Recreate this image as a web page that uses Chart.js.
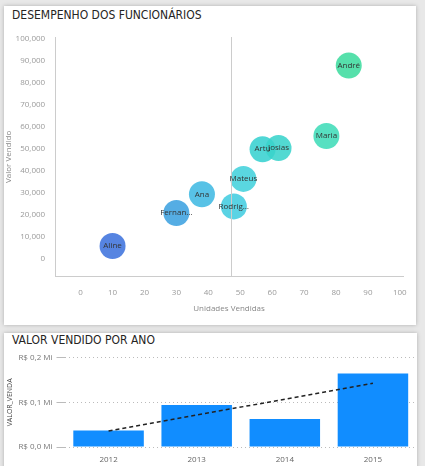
<!DOCTYPE html><html><head><meta charset="utf-8">
<script src="https://cdn.jsdelivr.net/npm/chart.js@4"></script>
<style>
body{margin:0;background:#e8e8e8;width:425px;height:466px;overflow:hidden;font-family:"Open Sans",sans-serif}
.card{position:absolute;background:#fff;box-shadow:0 0 4px rgba(0,0,0,.25)}
.t{position:absolute;left:8px;top:2px;font-family:"DejaVu Sans Condensed","Open Sans",sans-serif;font-size:12px;color:#252423}
canvas{position:absolute}
</style></head><body>
<div class="card" style="left:4px;top:6px;width:412px;height:319px">
<div class="t">DESEMPENHO DOS FUNCIONÁRIOS</div>
<canvas id="c1" style="left:0;top:18px" width="412" height="300"></canvas></div>
<div class="card" style="left:4px;top:333px;width:413px;height:140px">
<div class="t" style="top:0">VALOR VENDIDO POR ANO</div>
<canvas id="c2" style="left:0;top:16px" width="413" height="124"></canvas></div>
<script>
const names=["Aline","Fernando","Ana","Rodrigo","Mateus","Artur","Josias","Maria","André"];
const unidades=[10,30,38,48,51,57,62,77,84];
const valores=[6000,21000,29500,24000,36500,50000,50500,56000,88000];
const cores=["#3f73dd","#3da2e0","#41b9e3","#43cde0","#43d1dc","#38d2d0","#3ad4cc","#40dcb8","#3fdc9f"];
const mediaUnidades=47;
const anos=["2012","2013","2014","2015"];
const vendas=[0.037,0.094,0.063,0.165];
const tendencia=[0.036,0.072,0.107,0.143];
const grid='#9a9a9a';
const tf={family:"Open Sans",size:8};
new Chart(document.getElementById('c1'),{type:'bubble',
data:{datasets:[{data:unidades.map((x,i)=>({x:x,y:valores[i],r:13})),backgroundColor:cores.map(c=>c+'e0'),borderWidth:0}]},
options:{responsive:false,animation:false,layout:{padding:{top:0,right:8,left:0,bottom:6}},
plugins:{legend:{display:false},tooltip:{enabled:false}},
scales:{x:{type:'linear',min:-8,max:101,afterBuildTicks:a=>{a.ticks=[0,10,20,30,40,50,60,70,80,90,100].map(v=>({value:v}))},
grid:{display:false},border:{color:'#ccc'},ticks:{color:grid,font:tf},title:{display:true,text:'Unidades Vendidas',color:'#888',font:tf}},
y:{min:-8000,max:101000,afterBuildTicks:a=>{a.ticks=[0,10000,20000,30000,40000,50000,60000,70000,80000,90000,100000].map(v=>({value:v}))},
grid:{display:false},border:{color:'#ccc'},ticks:{color:grid,font:tf,padding:2,callback:v=>v.toLocaleString('en-US')},title:{display:true,text:'Valor Vendido',color:'#888',font:tf,padding:0}}}},
plugins:[{id:'lab',afterDatasetsDraw(ch){const c=ch.ctx,xs=ch.scales.x,ar=ch.chartArea;
c.save();c.strokeStyle='#ccc';c.lineWidth=1;const px=Math.round(xs.getPixelForValue(mediaUnidades))+.5;c.beginPath();c.moveTo(px,ar.top);c.lineTo(px,ar.bottom);c.stroke();
c.fillStyle='#333';c.font='8px "Open Sans"';c.textAlign='center';c.textBaseline='middle';
ch.getDatasetMeta(0).data.forEach((e,i)=>{let n=names[i];if(n.length>6)n=n.slice(0,6)+'…';if(n==='Artur')n='Artu';c.fillText(n,e.x,e.y)});c.restore();}}]});
new Chart(document.getElementById('c2'),{data:{labels:anos,datasets:[
{type:'line',data:tendencia,borderColor:'#222',borderDash:[4,3],borderWidth:1.5,pointRadius:0,order:0},
{type:'bar',data:vendas,backgroundColor:'#118dff',categoryPercentage:0.8,barPercentage:1,order:1}]},
options:{responsive:false,animation:false,layout:{padding:{right:0,left:2,top:2}},plugins:{legend:{display:false},tooltip:{enabled:false}},
scales:{x:{grid:{display:false},border:{display:false},ticks:{color:'#666',font:tf,padding:0},title:{display:true,text:'Ano',color:'#444',font:{family:'Open Sans',size:7},padding:0}},
y:{min:0,max:0.2,afterBuildTicks:a=>{a.ticks=[0,0.1,0.2].map(v=>({value:v}))},border:{display:false,dash:[1,3]},grid:{color:'#bbb'},ticks:{color:'#777',font:tf,padding:4,callback:v=>'R$ '+v.toFixed(1).replace('.',',')+' Mi'},
title:{display:true,text:'VALOR_VENDA',color:'#444',font:{family:'Open Sans',size:7},padding:0}}}}});
</script></body></html>
